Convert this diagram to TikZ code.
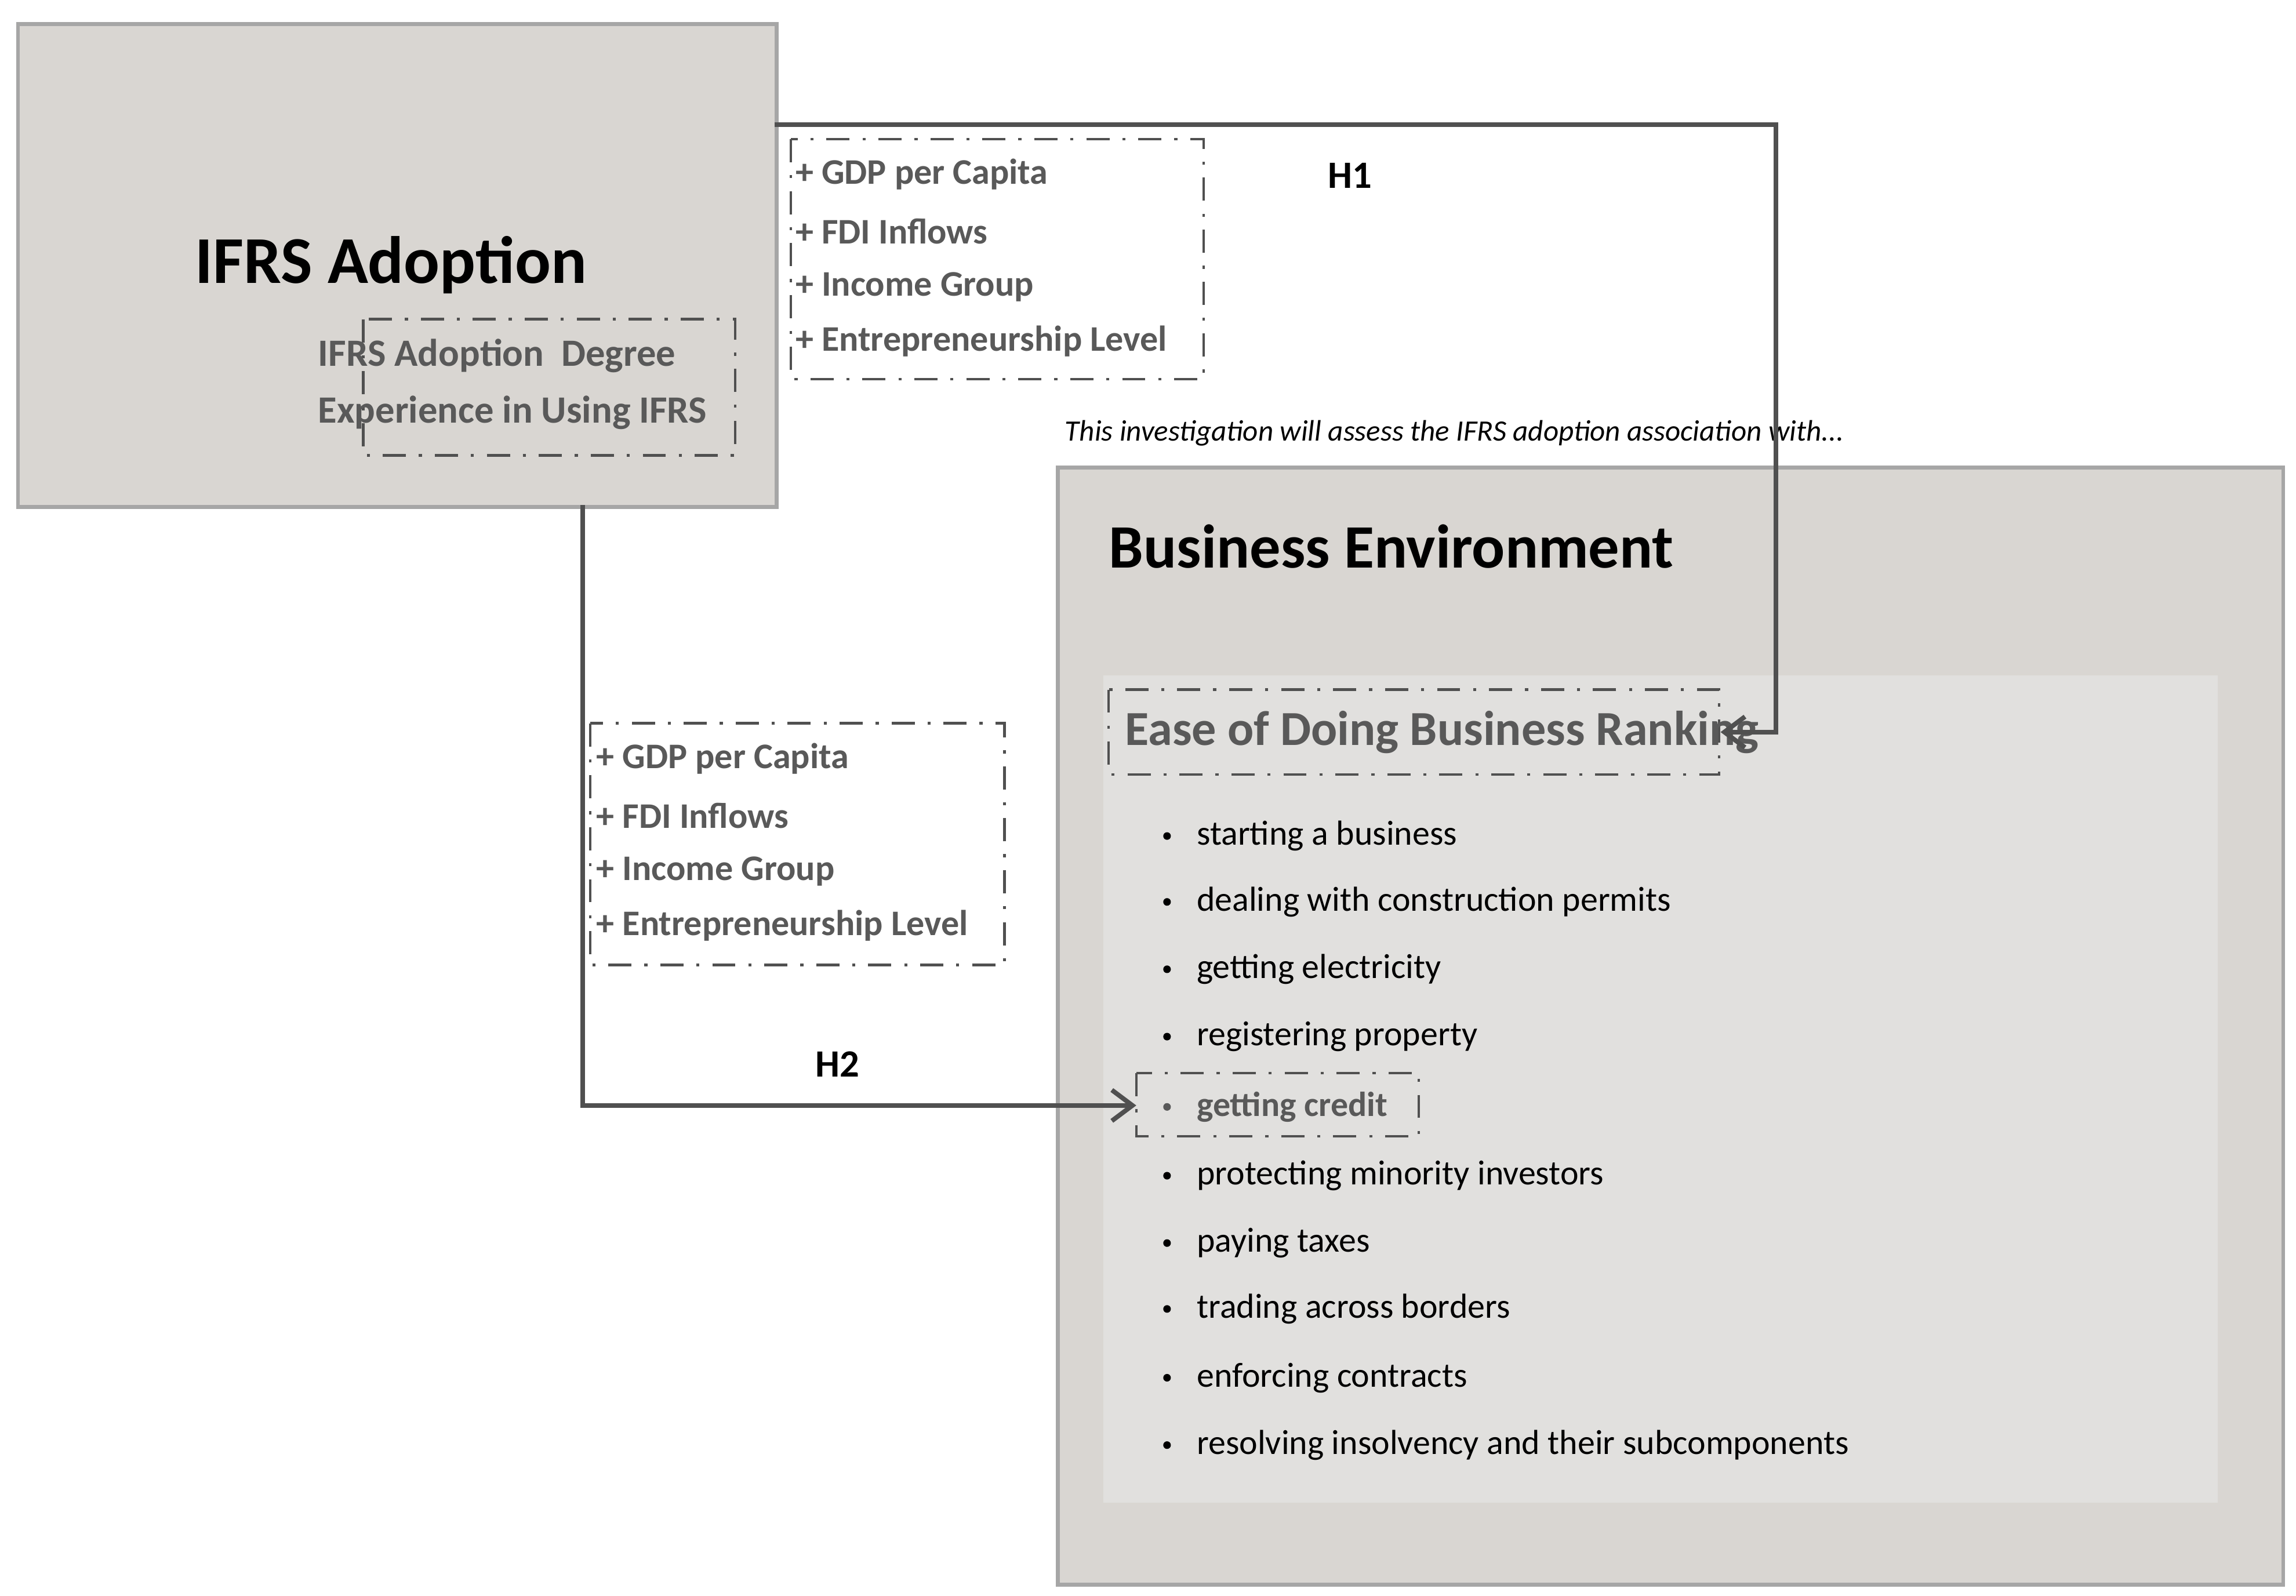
\documentclass[tikz,border=0pt]{standalone}
\usepackage{fontspec}
\setmainfont{Carlito}
\usetikzlibrary{arrows.meta}
\definecolor{boxfill}{HTML}{D9D6D2}
\definecolor{innerfill}{HTML}{E1E0DE}
\definecolor{boxline}{HTML}{A6A6A6}
\definecolor{conn}{HTML}{505050}
\definecolor{gtext}{HTML}{595959}
\tikzset{
  bigbox/.style={draw=boxline,line width=1.5pt,fill=boxfill},
  dd/.style={draw=conn,line width=1pt,dash pattern=on 9pt off 5pt on 1.2pt off 5pt},
  ctrl/.style={anchor=west,font=\fontsize{14}{16}\selectfont\bfseries,text=gtext,inner sep=0pt},
  item/.style={anchor=west,font=\fontsize{13.5}{16}\selectfont,inner sep=0pt},
  itemg/.style={item,text=gtext,font=\fontsize{13.5}{16}\selectfont\bfseries},
  hlab/.style={font=\fontsize{15}{18}\selectfont\bfseries,inner sep=0pt},
  ttl/.style={anchor=west,font=\fontsize{24}{28}\selectfont\bfseries,inner sep=0pt},
  conline/.style={draw=conn,line width=1.8pt,-{Straight Barb[length=8pt,width=12pt,line width=1.8pt]}}
}
\begin{document}
\begin{tikzpicture}[x=0.02cm,y=-0.02cm]
\useasboundingbox (0,0) rectangle (1568,1090);
% IFRS box
\node[bigbox,minimum width=518*0.02cm,minimum height=330*0.02cm,anchor=north west,inner sep=0] (ifrs) at (11,15) {};
\node[font=\fontsize{26}{30}\selectfont\bfseries,inner sep=0pt] (ifrst) at (267,181) {IFRS Adoption};
\draw[dd] (248,218) rectangle (502,311);
\node[ctrl,font=\fontsize{15}{18}\selectfont\bfseries] (deg) at (217,243) {IFRS Adoption\ \ Degree};
\node[ctrl,font=\fontsize{15}{18}\selectfont\bfseries] (exp) at (217,282) {Experience in Using IFRS};
% BE box
\node[bigbox,minimum width=837*0.02cm,minimum height=763*0.02cm,anchor=north west,inner sep=0] (be) at (721,318) {};
\node[fill=innerfill,minimum width=761*0.02cm,minimum height=565*0.02cm,anchor=north west,inner sep=0] (inner) at (753,461) {};
\node[ttl] (bet) at (757,373) {Business Environment};
\draw[dd] (757,471) rectangle (1174,529);
\node[ctrl,font=\fontsize{19}{22}\selectfont\bfseries] (ease) at (768,500) {Ease of Doing Business Ranking};
\coordinate (easeR) at (1175,500);
\draw[dd] (776,733) rectangle (969,776);
\coordinate (credL) at (776,755);
\foreach \y/\t/\c/\s [count=\i] in {571/starting a business/black/item,616/dealing with construction permits/black/item,662/getting electricity/black/item,708/registering property/black/item,756/getting credit/gtext/itemg,803/protecting minority investors/black/item,849/paying taxes/black/item,894/trading across borders/black/item,941/enforcing contracts/black/item,987/resolving insolvency and their subcomponents/black/item}{
  \node[\s] (it\i) at (817,\y) {\t};
  \fill[\c] (797,\y) circle (2.6);
}
\node[anchor=west,font=\fontsize{11.5}{14}\selectfont\itshape,inner sep=0pt] (note) at (727,296) {This investigation will assess the IFRS adoption association with...};
% control boxes
\draw[dd] (540,95) rectangle (822,259);
\draw[dd] (403,494) rectangle (686,659);
\foreach \y/\t [count=\i] in {119/GDP per Capita,158/FDI Inflows,196/Income Group,233/Entrepreneurship Level}{
  \node[ctrl] (ca\i) at (543,\y) {+ \t};
}
\foreach \y/\t [count=\i] in {518/GDP per Capita,557/FDI Inflows,595/Income Group,632/Entrepreneurship Level}{
  \node[ctrl] (cb\i) at (407,\y) {+ \t};
}
\node[hlab] (h1) at (922,120) {H1};
\node[hlab] (h2) at (572,727) {H2};
% connectors
\coordinate (s1) at (529,85);
\coordinate (s2) at (398,345);
\draw[conline] (s1) -- (1213,85) -- (1213,500) -- (easeR);
\draw[conline] (s2) -- (398,755) -- (credL);
\end{tikzpicture}
\end{document}
